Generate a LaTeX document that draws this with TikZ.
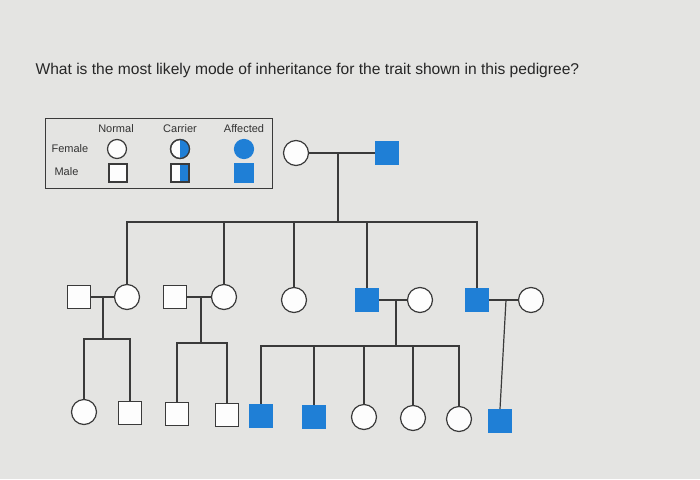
\documentclass[tikz,border=0pt]{standalone}
\usepackage{fontspec}
\setmainfont{Liberation Sans}
\definecolor{aff}{HTML}{1F7FD6}
\definecolor{bg}{HTML}{E4E4E2}
\definecolor{ln}{HTML}{3A3A3A}
\begin{document}
\begin{tikzpicture}[x=1pt,y=-1pt,
  m/.style={draw=ln,line width=1.2pt,minimum size=23pt,inner sep=0pt,fill=white!92!bg},
  f/.style={m,circle,minimum size=25pt},
  ma/.style={m,fill=aff,draw=aff},
  fa/.style={f,fill=aff,draw=aff},
  lm/.style={m,minimum size=18pt},
  lf/.style={f,minimum size=19pt},
  lk/.style={draw=ln,line width=1.2pt},
  lbl/.style={font=\fontsize{11}{12}\selectfont,text=black!80}]
\fill[bg] (0,0) rectangle (700,479);
\useasboundingbox (0,0) rectangle (700,479);
\node[anchor=west,font=\fontsize{15.6}{18}\selectfont,text=black!85] (q) at (32,70) {What is the most likely mode of inheritance for the trait shown in this pedigree?};
% legend
\node[draw=ln,line width=1pt,minimum width=227pt,minimum height=70pt,anchor=north west,inner sep=0pt] (leg) at (45,118) {};
\node[lbl] (hn) at (116,129) {Normal};
\node[lbl] (hc) at (180,129) {Carrier};
\node[lbl] (ha) at (244,129) {Affected};
\node[lbl,anchor=west] (hf) at (48,149) {Female};
\node[lbl,anchor=west] (hm) at (51,172) {Male};
\node[lf] (ln1) at (117,149) {};
\node[lm] (ln2) at (118,173) {};
\node[lf] (lc1) at (180,149) {};
\fill[aff] (lc1.north) arc (90:-90:9.5pt) -- cycle;
\node[lf,fill=none] (lc1b) at (180,149) {};
\node[lm] (lc2) at (180,173) {};
\fill[aff] (lc2.north) rectangle (lc2.south east);
\node[lm,fill=none] (lc2b) at (180,173) {};
\node[lf,fill=aff,draw=aff] (la1) at (244,149) {};
\node[lm,fill=aff,draw=aff] (la2) at (244,173) {};
% gen I
\node[f] (i1) at (296,153) {};
\node[ma] (i2) at (387,153) {};
\coordinate (c0) at (338,153);
\coordinate (s0) at (338,222);
\draw[lk] (i1) -- (i2);
\draw[lk] (c0) -- (s0);
% gen II
\node[m] (a1) at (79,297) {};
\node[f] (a2) at (127,297) {};
\node[m] (b1) at (175,297) {};
\node[f] (b2) at (224,297) {};
\node[f] (c1) at (294,300) {};
\node[ma] (d1) at (367,300) {};
\node[f] (d2) at (420,300) {};
\node[ma] (e1) at (477,300) {};
\node[f] (e2) at (531,300) {};
\draw[lk] (a2.north) |- (s0) -| (e1.north);
\draw[lk] (b2.north) -- (b2.north|-s0);
\draw[lk] (c1.north) -- (c1.north|-s0);
\draw[lk] (d1.north) -- (d1.north|-s0);
\draw[lk] (a1) -- (a2); \draw[lk] (b1) -- (b2); \draw[lk] (d1) -- (d2); \draw[lk] (e1) -- (e2);
% gen III
\node[f] (g1) at (84,412) {};
\node[m] (g2) at (130,413) {};
\node[m] (g3) at (177,414) {};
\node[m] (g4) at (227,415) {};
\node[ma] (g5) at (261,416) {};
\node[ma] (g6) at (314,417) {};
\node[f] (g7) at (364,417) {};
\node[f] (g8) at (413,418) {};
\node[f] (g9) at (459,419) {};
\node[ma] (g10) at (500,421) {};
\draw[lk] (103,297) -- (103,339);
\draw[lk] (g1.north) |- (103,339) -| (g2.north);
\draw[lk] (201,297) -- (201,343);
\draw[lk] (g3.north) |- (201,343) -| (g4.north);
\draw[lk] (396,300) -- (396,346);
\draw[lk] (g5.north) |- (396,346) -| (g9.north);
\draw[lk] (g6.north) -- (g6.north|-396,346);
\draw[lk] (g7.north) -- (g7.north|-396,346);
\draw[lk] (g8.north) -- (g8.north|-396,346);
\draw[lk] (506,300) -- (g10.north);
\end{tikzpicture}
\end{document}
